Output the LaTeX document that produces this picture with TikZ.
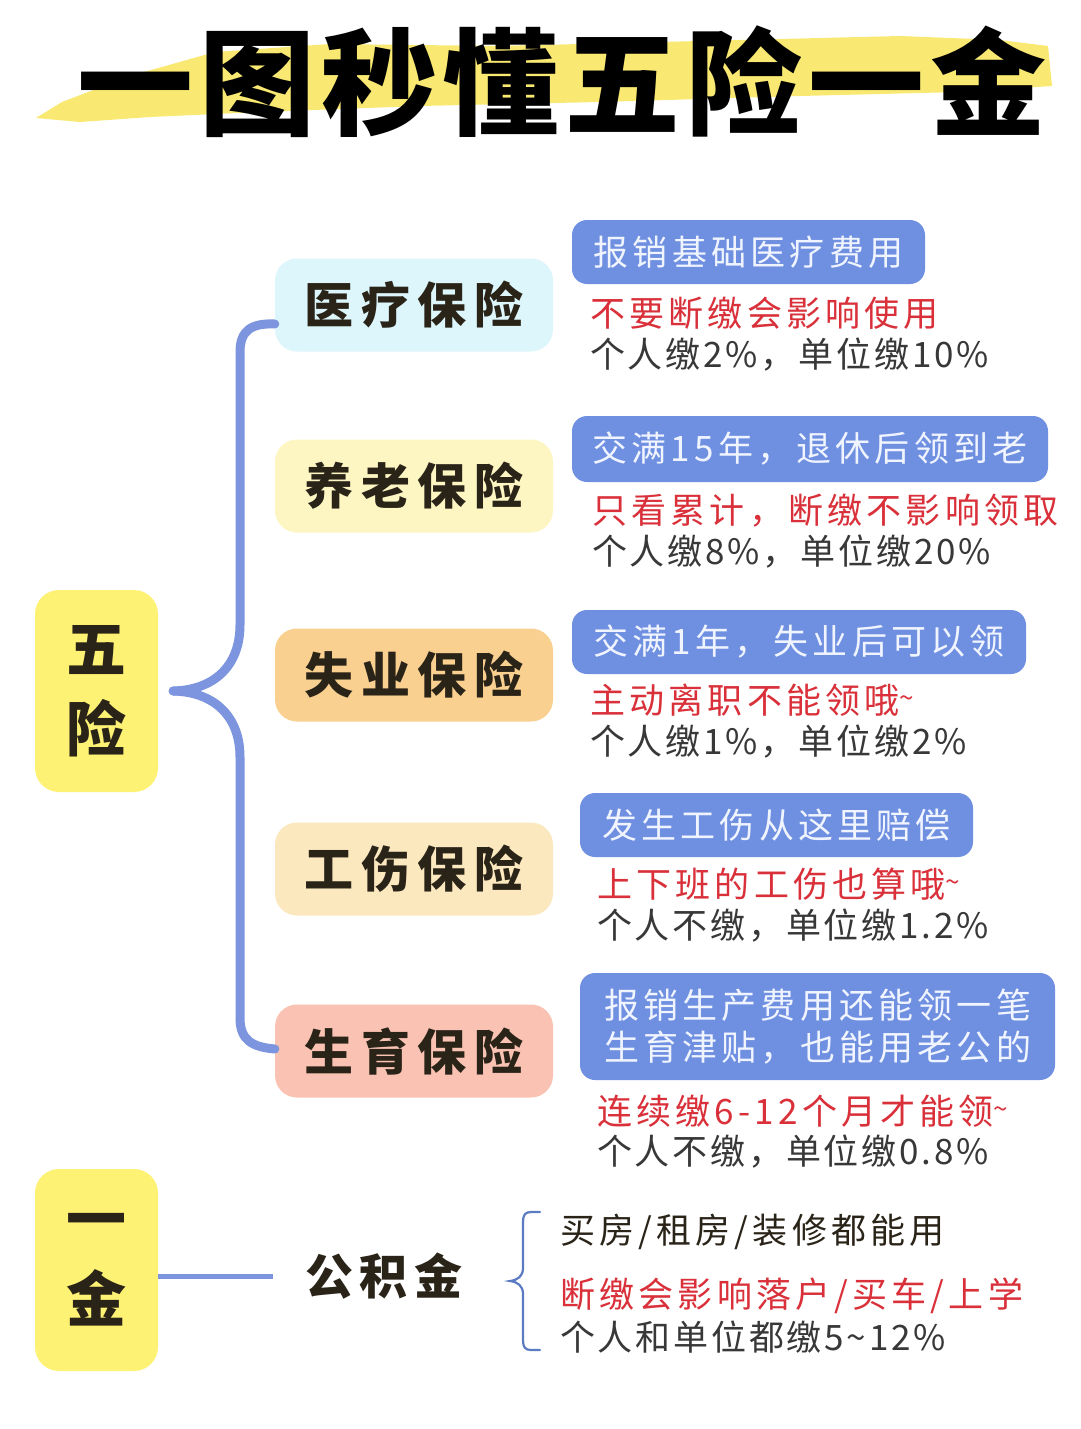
\documentclass[tikz,border=0pt]{standalone}
\usepackage{fontspec}
\setmainfont{Noto Sans CJK SC}
\newfontfamily\cjk{Noto Sans CJK SC}
\definecolor{brushc}{HTML}{F8E65A}
\definecolor{fivec}{HTML}{FEF274}
\definecolor{cyanc}{HTML}{DCF6FB}
\definecolor{lyelc}{HTML}{FDF6C3}
\definecolor{orgc}{HTML}{F9D08F}
\definecolor{peachc}{HTML}{FCE8BF}
\definecolor{salmc}{HTML}{F9C2B2}
\definecolor{bluec}{HTML}{6F8FE0}
\definecolor{boxtxt}{HTML}{F0F4FF}
\definecolor{redc}{HTML}{D9303A}
\definecolor{grayc}{HTML}{383838}
\definecolor{inkc}{HTML}{2A2318}
\definecolor{bracec}{HTML}{7C95DE}
\definecolor{sbracec}{HTML}{5A7BC2}
\begin{document}
\begin{tikzpicture}[x=1pt,y=-1pt,
  lvlone/.style={rounded corners=24, fill=fivec, minimum width=123, minimum height=202, inner sep=0, align=center, text=inkc, font=\fontsize{60}{80}\selectfont\bfseries},
  ins/.style={rounded corners=22, minimum width=278, minimum height=93, inner sep=0, text=inkc, font=\fontsize{49}{56}\selectfont\bfseries\addfontfeature{LetterSpace=16}},
  bluebox/.style={rounded corners=15, fill=bluec, text=boxtxt, inner sep=0, align=left, font=\fontsize{35}{42}\selectfont\addfontfeature{LetterSpace=12}},
  redtxt/.style={anchor=west, inner sep=0, text=redc, font=\fontsize{35}{42}\selectfont\addfontfeature{LetterSpace=12}},
  graytxt/.style={anchor=west, inner sep=0, text=grayc, font=\fontsize{35}{42}\selectfont\addfontfeature{LetterSpace=8}},
  blacktxt/.style={anchor=west, inner sep=0, text=inkc, font=\fontsize{35}{42}\selectfont\addfontfeature{LetterSpace=12}},
  bracestyle/.style={draw=bracec, line width=9, line cap=round, line join=round},
  linkstyle/.style={draw=bracec, line width=5},
  sbrace/.style={draw=sbracec, line width=2.2, line cap=round}
]
\useasboundingbox (0,0) rectangle (1080,1429);
\fill[white] (0,0) rectangle (1080,1429);

% title brush
\fill[brushc, opacity=0.85] (36,118) -- (62,102) -- (130,76) -- (215,52) -- (330,44) -- (500,46) -- (700,41) -- (900,36) -- (1000,40) -- (1048,46) -- (1052,86) -- (960,92) -- (800,96) -- (600,102) -- (420,106) -- (260,112) -- (150,117) -- (80,122) -- cycle;
\node[inner sep=0, text=black, font=\fontsize{116}{130}\selectfont\bfseries\addfontfeature{LetterSpace=5}] (title) at (562,82) {一图秒懂五险一金};

% level one
\node[lvlone] (wx) at (96.5,691) {五\\险};
\node[lvlone] (yj) at (96.5,1270) {一\\金};

% insurances
\node[ins, fill=cyanc] (ylb) at (414,305) {医疗保险};
\node[ins, fill=lyelc] (yl) at (414,486) {养老保险};
\node[ins, fill=orgc] (sy) at (414,675) {失业保险};
\node[ins, fill=peachc] (gs) at (414,869) {工伤保险};
\node[ins, fill=salmc] (sheng) at (414,1051) {生育保险};

% brace
\coordinate (tip) at ([xshift=15pt]wx.east);
\draw[bracestyle] (tip) .. controls (215,690) and (240,665) .. (240,625) -- (240,352) .. controls (240,330) and (252,323) .. ([yshift=-19pt]ylb.west);
\draw[bracestyle] (tip) .. controls (215,692) and (240,717) .. (240,757) -- (240,1018) .. controls (240,1040) and (252,1047) .. ([yshift=2pt]sheng.west);

% blue boxes
\node[bluebox, minimum width=353, minimum height=64] (b1) at (748.5,252) {报销基础医疗费用};
\node[bluebox, minimum width=476, minimum height=66] (b2) at (810,449) {交满15年，退休后领到老};
\node[bluebox, minimum width=454, minimum height=64] (b3) at (799,642) {交满1年，失业后可以领};
\node[bluebox, minimum width=393, minimum height=64] (b4) at (776.5,825) {发生工伤从这里赔偿};
\node[bluebox, minimum width=475, minimum height=107] (b5) at (817.5,1026.5) {报销生产费用还能领一笔\\生育津贴，也能用老公的};

% notes
\node[redtxt] (r1) at (590,313) {不要断缴会影响使用};
\node[graytxt] (g1) at (590,355) {个人缴2\%，单位缴10\%};
\node[redtxt] (r2) at (592,511) {只看累计，断缴不影响领取};
\node[graytxt] (g2) at (592,552) {个人缴8\%，单位缴20\%};
\node[redtxt] (r3) at (590,700) {主动离职不能领哦\raisebox{6pt}{\fontsize{26}{26}\selectfont\textasciitilde}};
\node[graytxt] (g3) at (590,742) {个人缴1\%，单位缴2\%};
\node[redtxt] (r4) at (597,884) {上下班的工伤也算哦\raisebox{6pt}{\fontsize{26}{26}\selectfont\textasciitilde}};
\node[graytxt] (g4) at (597,926) {个人不缴，单位缴1.2\%};
\node[redtxt] (r5) at (597,1111) {连续缴6-12个月才能领\raisebox{6pt}{\fontsize{26}{26}\selectfont\textasciitilde}};
\node[graytxt] (g5) at (597,1152) {个人不缴，单位缴0.8\%};

% housing fund
\node[inner sep=0, text=inkc, anchor=west, font=\fontsize{48}{56}\selectfont\bfseries\addfontfeature{LetterSpace=14}] (gjj) at (305,1276) {公积金};
\draw[linkstyle] (yj.east |- gjj.west) -- ([xshift=-32pt]gjj.west);
\coordinate (sbtip) at (510,1281);
\draw[sbrace] (540,1212) -- (531,1212) .. controls (525,1212) and (523,1215) .. (523,1222) -- (523,1268) .. controls (523,1276) and (518,1280) .. (sbtip) .. controls (518,1282) and (523,1286) .. (523,1294) -- (523,1340) .. controls (523,1347) and (525,1350) .. (531,1350) -- (540,1350);
\node[blacktxt] (f1) at (560,1232) {买房/租房/装修都能用};
\node[redtxt] (f2) at (560,1296) {断缴会影响落户/买车/上学};
\node[graytxt] (f3) at (560,1337) {个人和单位都缴5\textasciitilde12\%};
\end{tikzpicture}
\end{document}
